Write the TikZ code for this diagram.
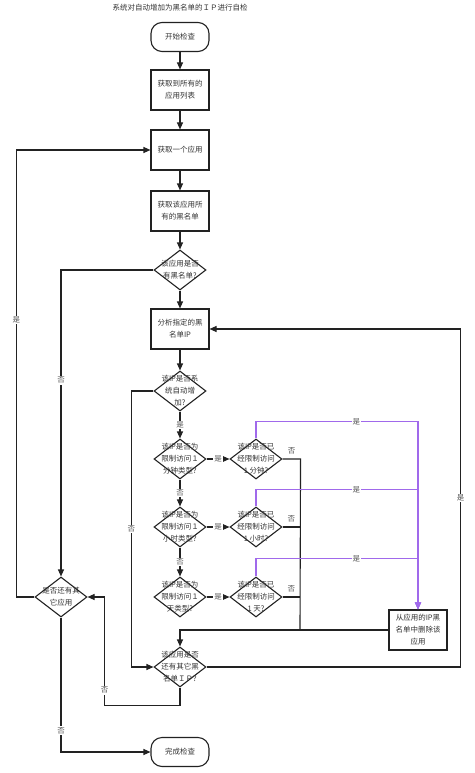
\documentclass[tikz,border=0pt]{standalone}
\usepackage{fontspec}
\setmainfont{Noto Sans CJK SC}
\usetikzlibrary{arrows.meta,shapes.geometric}
\definecolor{fcline}{RGB}{34,34,34}
\definecolor{fctext}{RGB}{51,51,51}
\definecolor{fcpurple}{RGB}{160,105,235}
\definecolor{fcgray}{RGB}{85,85,85}

\begin{document}
\begin{tikzpicture}[x=1pt, y=-1pt,
  font=\fontsize{7.5}{12}\selectfont,
  box/.style={draw=fcline, line width=1.1pt, minimum width=58pt, minimum height=40pt, align=center, text=fctext, inner sep=1pt},
  term/.style={draw=fcline, line width=1.1pt, rounded corners=11pt, minimum width=58pt, minimum height=29pt, text=fctext},
  decide/.style={diamond, draw=fcline, line width=1.1pt, minimum width=52pt, minimum height=40pt, inner sep=0pt, label={[text=fctext, align=center]center:#1}},
  arr/.style={draw=fcline, line width=1.1pt, -{Triangle[length=7pt,width=6pt]}},
  link/.style={draw=fcline, line width=1.1pt},
  hit/.style={draw=fcpurple, line width=1.1pt, -{Triangle[length=7pt,width=6pt]}},
  lab/.style={fill=white, text=fcgray, inner sep=1pt}]
  \useasboundingbox (0,0) rectangle (474,773);
  % Title
  \node[text=fctext] (title) at (180,8) {系统对自动增加为黑名单的ＩＰ进行自检};
  % Main column
  \node[term] (start) at (180,37) {开始检查};
  \node[box] (list) at (180,90) {获取到所有的\\应用列表};
  \node[box] (one) at (180,150) {获取一个应用};
  \node[box] (bl) at (180,211) {获取该应用所\\有的黑名单};
  \node[decide={该应用是否\\有黑名单?}] (hasbl) at (180,270) {};
  \node[box] (ana) at (180,329) {分析指定的黑\\名单IP};
  \node[decide={该IP是否系\\统自动增\\加?}] (auto) at (180,391) {};
  % Limit type checks
  \node[decide={该IP是否为\\限制访问１\\分钟类型?}] (mtype) at (180,459) {};
  \node[decide={该IP是否为\\限制访问１\\小时类型?}] (htype) at (180,527) {};
  \node[decide={该IP是否为\\限制访问１\\天类型?}] (dtype) at (180,597) {};
  \node[decide={该IP是否已\\经限制访问\\1 分钟?}] (mdone) at (256,459) {};
  \node[decide={该IP是否已\\经限制访问\\1 小时?}] (hdone) at (256,527) {};
  \node[decide={该IP是否已\\经限制访问\\1 天?}] (ddone) at (256,597) {};
  \node[box] (del) at (418,630) {从应用的IP黑\\名单中删除该\\应用};
  \node[decide={该应用是否\\还有其它黑\\名单ＩＰ?}] (last) at (180,667) {};
  \node[decide={是否还有其\\它应用}] (more) at (61,597) {};
  \node[term] (done) at (180,752) {完成检查};
  % Straight flow
  \draw[arr] (start) -- (list);
  \draw[arr] (list) -- (one);
  \draw[arr] (one) -- (bl);
  \draw[arr] (bl) -- (hasbl);
  \draw[arr] (hasbl) -- (ana);
  \draw[arr] (ana) -- (auto);
  \draw[arr] (auto) -- node[lab] {是} (mtype);
  \draw[arr] (mtype) -- node[lab] {否} (htype);
  \draw[arr] (htype) -- node[lab] {否} (dtype);
  \draw[arr] (mtype) -- node[lab] {是} (mdone);
  \draw[arr] (htype) -- node[lab] {是} (hdone);
  \draw[arr] (dtype) -- node[lab] {是} (ddone);
  % Not limited yet
  \coordinate (join) at (300,629);
  \draw[link] (mdone.east) -- node[text=fcgray, above=1pt] {否} ++(18,0) -- (join);
  \draw[link] (hdone.east) -- node[text=fcgray, above=1pt] {否} (hdone.east -| join);
  \draw[link] (ddone.east) -- node[text=fcgray, above=1pt] {否} (ddone.east -| join);
  \draw[arr] (del.west) -| (last.north);
  % Already limited
  \draw[hit] (mdone.north) -- ++(0,-17) -| node[lab, pos=0.31] {是} (del.north);
  \draw[hit] (hdone.north) -- ++(0,-17) -| node[lab, pos=0.31] {是} (del.north);
  \draw[hit] (ddone.north) -- ++(0,-18) -| node[lab, pos=0.31] {是} (del.north);
  % Loops back
  \draw[arr] (auto.west) -- ++(-22,0) |- node[lab, pos=0.25] {否} (last.west);
  \draw[arr] (last.east) -- ++(254,0) |- node[lab, pos=0.25] {是} (ana.east);
  \draw[arr] (last.south) -- ++(0,18) -| node[lab, pos=0.57] {否} ([xshift=17pt]more.east) -- (more.east);
  \draw[arr] (hasbl.west) -| node[lab, pos=0.68] {否} (more.north);
  \draw[arr] (more.west) -- ++(-18,0) |- node[lab, pos=0.31] {是} (one.west);
  \draw[arr] (more.south) |- node[lab, pos=0.42] {否} (done.west);
\end{tikzpicture}
\end{document}
